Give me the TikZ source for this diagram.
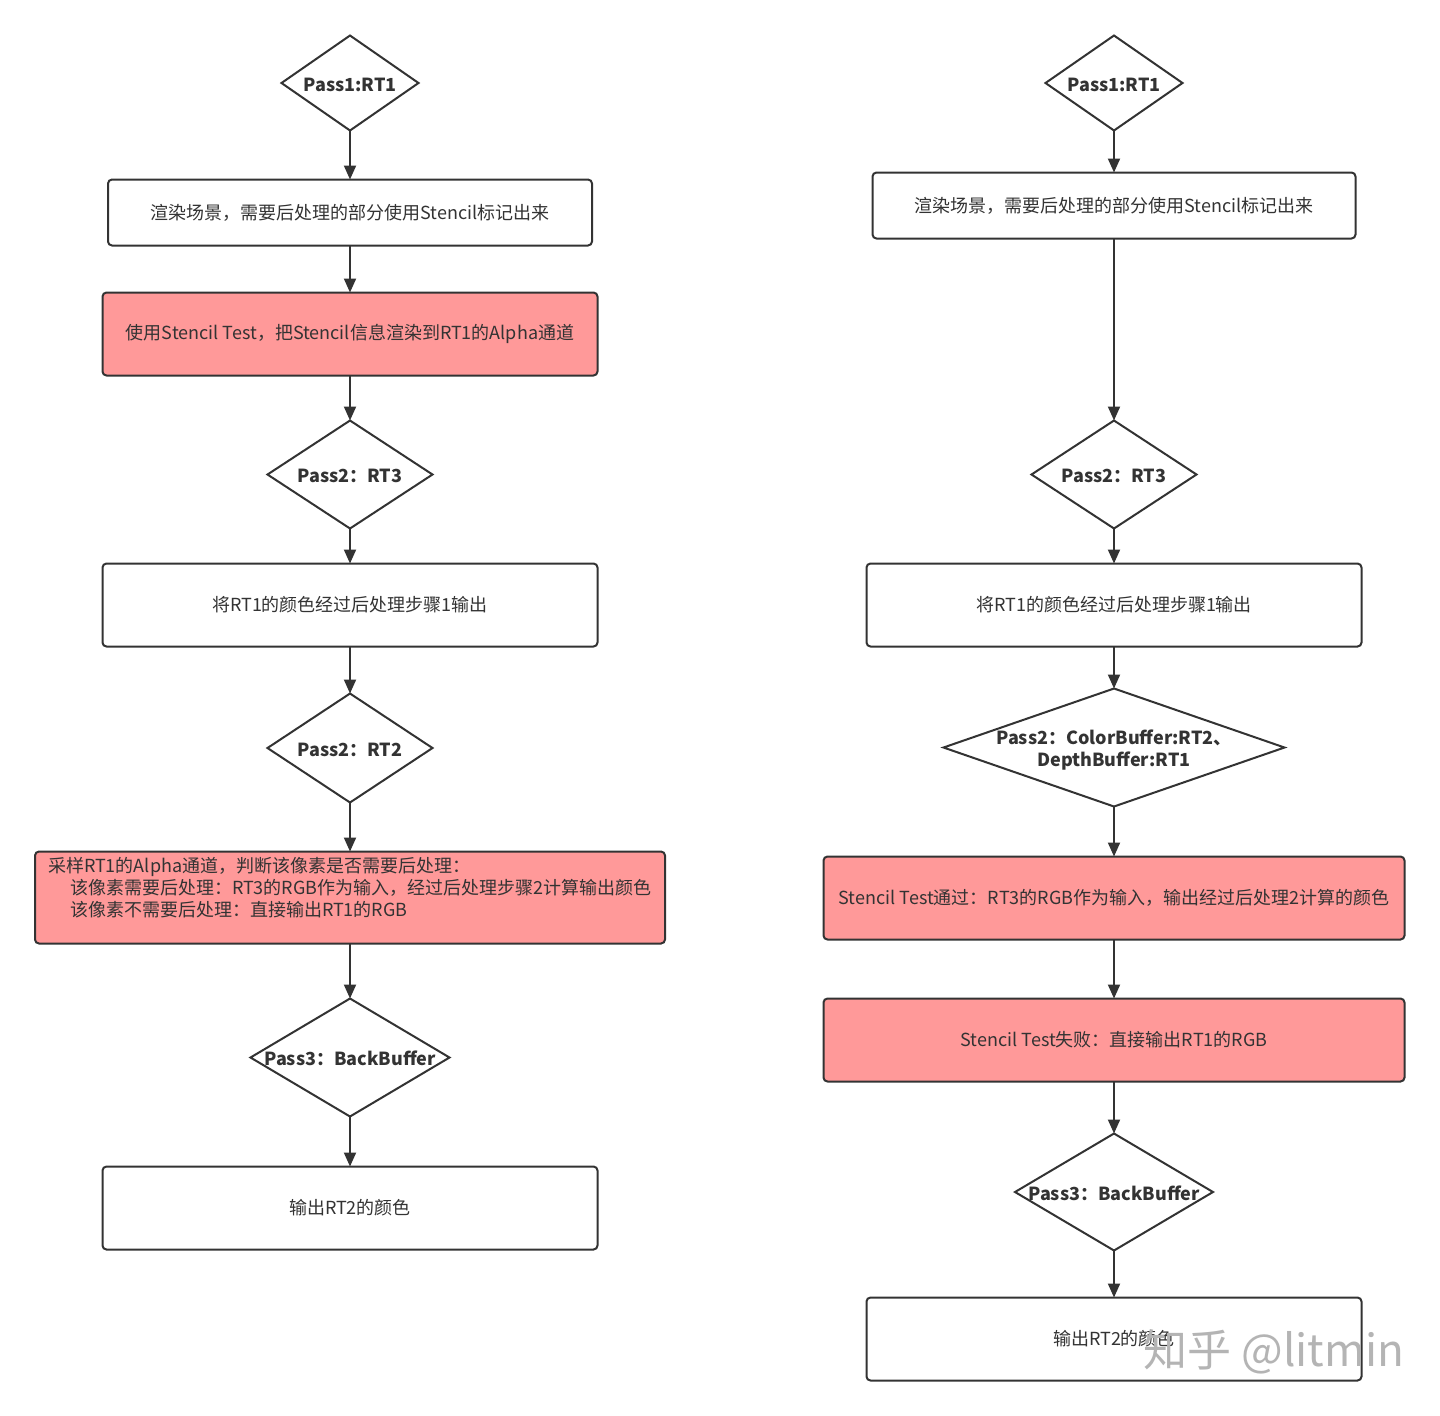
\documentclass[tikz,border=0pt]{standalone}
\usepackage{fontspec}
\setmainfont{Noto Sans CJK SC}
\usepackage{tikz}
\usetikzlibrary{arrows.meta,positioning,shapes.geometric}
\definecolor{linegray}{HTML}{333333}
\definecolor{textgray}{HTML}{333333}
\definecolor{boxred}{HTML}{FF9999}
\definecolor{markgray}{HTML}{B4B4B4}
\newcommand{\diatext}[1]{\makebox[0pt]{\raisebox{0pt}[\dimexpr\height+4pt\relax][\depth]{\begin{tabular}{@{}c@{}}#1\end{tabular}}}}
\tikzset{
  stepbox/.style={
    draw=linegray,
    fill=white,
    line width=1pt,
    rounded corners=2pt,
    align=center,
    inner sep=4pt,
    outer sep=0pt,
    text=textgray,
    font=\fontsize{9}{11}\selectfont
  },
  redbox/.style={
    stepbox,
    fill=boxred
  },
  passdia/.style={
    draw=linegray,
    fill=white,
    line width=1pt,
    shape=diamond,
    inner sep=0pt,
    outer sep=0pt,
    text=textgray,
    font=\fontsize{9}{11}\selectfont\bfseries
  },
  flowarrow/.style={-{Triangle[length=7pt,width=6pt]}, line width=1pt, draw=linegray}
}
\begin{document}
\begin{tikzpicture}[x=1pt, y=-1pt, node distance=24pt]
\useasboundingbox (0,0) rectangle (720,707.5);

% left column
\node[passdia, minimum width=68.5pt, minimum height=47.5pt] (l1) at (175,41.5) {\diatext{Pass1:RT1}};
\node[stepbox, below=24.5pt of l1, minimum width=242pt, minimum height=33pt] (l2) {渲染场景，需要后处理的部分使用Stencil标记出来};
\node[redbox, below=23.5pt of l2, minimum width=247.5pt, minimum height=41.5pt] (l3) {使用Stencil Test，把Stencil信息渲染到RT1的Alpha通道};
\node[passdia, below=22.5pt of l3, minimum width=82.5pt, minimum height=54pt] (l4) {\diatext{Pass2：RT3}};
\node[stepbox, below=17.5pt of l4, minimum width=247.5pt, minimum height=41.5pt] (l5) {将RT1的颜色经过后处理步骤1输出};
\node[passdia, below=23.5pt of l5, minimum width=82.5pt, minimum height=54.5pt] (l6) {\diatext{Pass2：RT2}};
\node[redbox, below=24.5pt of l6, minimum height=46pt, text width=302pt, inner xsep=6.5pt, inner ysep=2.5pt, align=left] (l7)
  {采样RT1的Alpha通道，判断该像素是否需要后处理：\\
   \hspace*{11pt}该像素需要后处理：RT3的RGB作为输入，经过后处理步骤2计算输出颜色\\
   \hspace*{11pt}该像素不需要后处理：直接输出RT1的RGB\\
   \mbox{}};
\node[passdia, below=27.5pt of l7, minimum width=99.5pt, minimum height=59pt] (l8) {\diatext{Pass3：BackBuffer}};
\node[stepbox, below=25pt of l8, minimum width=247.5pt, minimum height=41.5pt] (l9) {输出RT2的颜色};

% right column
\node[passdia, minimum width=68.5pt, minimum height=47.5pt] (r1) at (557,41.5) {\diatext{Pass1:RT1}};
\node[stepbox, below=21pt of r1, minimum width=241.5pt, minimum height=33pt] (r2) {渲染场景，需要后处理的部分使用Stencil标记出来};
\node[passdia, below=91pt of r2, minimum width=82.5pt, minimum height=54pt] (r3) {\diatext{Pass2：RT3}};
\node[stepbox, below=17.5pt of r3, minimum width=247.5pt, minimum height=41.5pt] (r4) {将RT1的颜色经过后处理步骤1输出};
\node[passdia, below=21pt of r4, minimum width=170.5pt, minimum height=59pt] (r5) {\diatext{Pass2：ColorBuffer:RT2、\\DepthBuffer:RT1}};
\node[redbox, below=25pt of r5, minimum width=290.5pt, minimum height=41.5pt] (r6) {Stencil Test通过：RT3的RGB作为输入，输出经过后处理2计算的颜色};
\node[redbox, below=29.5pt of r6, minimum width=290.5pt, minimum height=41.5pt] (r7) {Stencil Test失败：直接输出RT1的RGB};
\node[passdia, below=26pt of r7, minimum width=99pt, minimum height=58.5pt] (r8) {\diatext{Pass3：BackBuffer}};
\node[stepbox, below=23.5pt of r8, minimum width=247.5pt, minimum height=41.5pt] (r9) {输出RT2的颜色};

\draw[flowarrow] (l1) -- (l2);
\draw[flowarrow] (l2) -- (l3);
\draw[flowarrow] (l3) -- (l4);
\draw[flowarrow] (l4) -- (l5);
\draw[flowarrow] (l5) -- (l6);
\draw[flowarrow] (l6) -- (l7);
\draw[flowarrow] (l7) -- (l8);
\draw[flowarrow] (l8) -- (l9);
\draw[flowarrow] (r1) -- (r2);
\draw[flowarrow] (r2) -- (r3);
\draw[flowarrow] (r3) -- (r4);
\draw[flowarrow] (r4) -- (r5);
\draw[flowarrow] (r5) -- (r6);
\draw[flowarrow] (r6) -- (r7);
\draw[flowarrow] (r7) -- (r8);
\draw[flowarrow] (r8) -- (r9);

% watermark
\node[text=markgray, font=\fontsize{22}{22}\selectfont] (mark) at (637,676) {知乎 @litmin};
\end{tikzpicture}
\end{document}
